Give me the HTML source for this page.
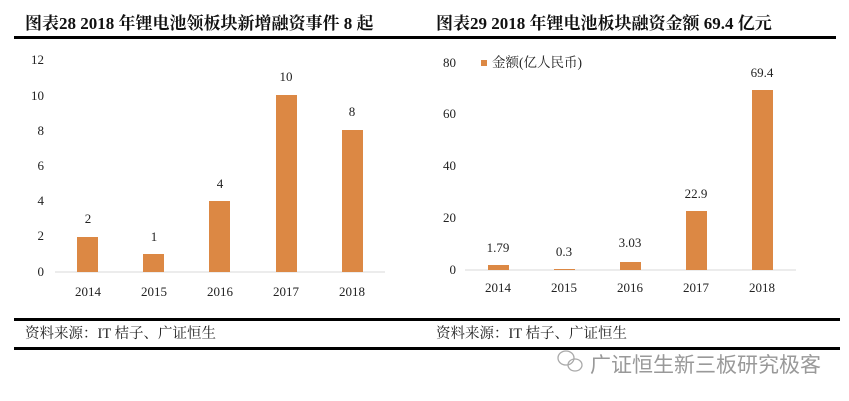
<!DOCTYPE html>
<html><head><meta charset="utf-8"><style>
body{margin:0;background:#fff;width:849px;height:401px;overflow:hidden}
svg{display:block}
.t{font-family:"Liberation Serif","Noto Serif CJK SC",serif;font-size:17px;font-weight:bold;fill:#111}
.a{font-family:"Liberation Serif",serif;font-size:13px;fill:#222}
.s{font-family:"Liberation Serif","Noto Serif CJK SC",serif;font-size:14.5px;fill:#222}
</style></head><body>
<svg width="849" height="401" viewBox="0 0 849 401">
<text class="t" x="25" y="29">图表28 2018 年锂电池领板块新增融资事件 8 起</text>
<text class="t" x="436" y="29">图表29 2018 年锂电池板块融资金额 69.4 亿元</text>
<rect x="14" y="36" width="411" height="3" fill="#000"/>
<rect x="425" y="36" width="411" height="3" fill="#000"/>
<g class="a" text-anchor="end">
<text x="44" y="64">12</text><text x="44" y="100">10</text><text x="44" y="135">8</text><text x="44" y="170">6</text><text x="44" y="205">4</text><text x="44" y="240">2</text><text x="44" y="276">0</text>
</g>
<line x1="55" y1="272" x2="385" y2="272" stroke="#d9d9d9" stroke-width="1"/>
<g fill="#dc8844">
<rect x="77" y="237" width="21" height="35"/>
<rect x="143" y="254" width="21" height="18"/>
<rect x="209" y="201" width="21" height="71"/>
<rect x="276" y="95" width="21" height="177"/>
<rect x="342" y="130" width="21" height="142"/>
</g>
<g class="a" text-anchor="middle">
<text x="88" y="223">2</text><text x="154" y="241">1</text><text x="220" y="188">4</text><text x="286" y="81">10</text><text x="352" y="116">8</text>
<text x="88" y="296">2014</text><text x="154" y="296">2015</text><text x="220" y="296">2016</text><text x="286" y="296">2017</text><text x="352" y="296">2018</text>
</g>
<g class="a" text-anchor="end">
<text x="456" y="67">80</text><text x="456" y="118">60</text><text x="456" y="170">40</text><text x="456" y="222">20</text><text x="456" y="274">0</text>
</g>
<rect x="481" y="60" width="6" height="6" fill="#dc8844"/>
<text class="s" x="492" y="67" style="font-size:13.5px">金额(亿人民币)</text>
<line x1="465" y1="270" x2="796" y2="270" stroke="#d9d9d9" stroke-width="1"/>
<g fill="#dc8844">
<rect x="488" y="265" width="21" height="5"/>
<rect x="554" y="269" width="21" height="1"/>
<rect x="620" y="262" width="21" height="8"/>
<rect x="686" y="211" width="21" height="59"/>
<rect x="752" y="90" width="21" height="180"/>
</g>
<g class="a" text-anchor="middle">
<text x="498" y="252">1.79</text><text x="564" y="256">0.3</text><text x="630" y="247">3.03</text><text x="696" y="198">22.9</text><text x="762" y="77">69.4</text>
<text x="498" y="292">2014</text><text x="564" y="292">2015</text><text x="630" y="292">2016</text><text x="696" y="292">2017</text><text x="762" y="292">2018</text>
</g>
<rect x="14" y="318" width="826" height="3" fill="#000"/>
<text class="s" x="25" y="338">资料来源：IT 桔子、广证恒生</text>
<text class="s" x="436" y="338">资料来源：IT 桔子、广证恒生</text>
<rect x="14" y="347" width="826" height="3" fill="#000"/>
<g fill="none" stroke="#aaa" stroke-width="1.3">
<ellipse cx="566" cy="358" rx="8" ry="7"/><ellipse cx="575" cy="365" rx="7" ry="6"/>
</g>
<text x="590" y="372" font-family="'Noto Sans CJK SC',sans-serif" font-size="21" fill="#999">广证恒生新三板研究极客</text>
</svg>
</body></html>
